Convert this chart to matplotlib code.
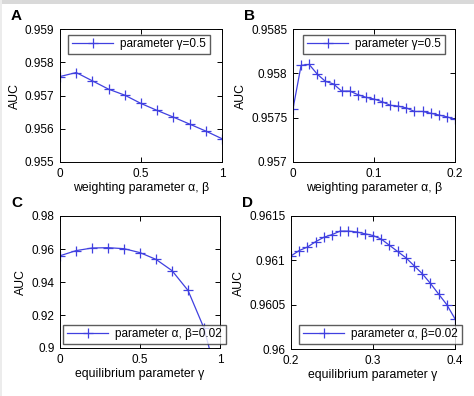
import matplotlib.pyplot as plt
from matplotlib.ticker import FuncFormatter
from matplotlib.patches import Rectangle

plt.rcParams["font.family"] = ["Liberation Sans", "DejaVu Sans"]

# --------------- data ------------------- #

a_x = [0, 0.1, 0.2, 0.3, 0.4, 0.5, 0.6, 0.7, 0.8, 0.9, 1.0]
a_auc = [0.95757, 0.95769, 0.95744, 0.95719, 0.95701, 0.95676,
         0.95655, 0.95635, 0.95614, 0.95593, 0.95570]

b_x = [0, 0.01, 0.02, 0.03, 0.04, 0.05, 0.06, 0.07, 0.08, 0.09, 0.10,
       0.11, 0.12, 0.13, 0.14, 0.15, 0.16, 0.17, 0.18, 0.19, 0.20]
b_auc = [0.95760, 0.95809, 0.95810, 0.95799, 0.95791, 0.95788, 0.95780,
         0.95780, 0.95776, 0.95773, 0.95771, 0.95768, 0.95764, 0.95763,
         0.95761, 0.95757, 0.95757, 0.95755, 0.95753, 0.95751, 0.95748]

c_x = [0, 0.1, 0.2, 0.3, 0.4, 0.5, 0.6, 0.7, 0.8, 0.9, 1.0]
c_auc = [0.9559, 0.9590, 0.9606, 0.9608, 0.9602, 0.9578,
         0.9537, 0.9469, 0.9349, 0.912, 0.875]

d_x = [0.20, 0.21, 0.22, 0.23, 0.24, 0.25, 0.26, 0.27, 0.28, 0.29, 0.30,
       0.31, 0.32, 0.33, 0.34, 0.35, 0.36, 0.37, 0.38, 0.39, 0.40]
d_auc = [0.96105, 0.96111, 0.96115, 0.96121, 0.96126, 0.96129, 0.96133,
         0.96133, 0.96132, 0.96130, 0.96128, 0.96124, 0.96117, 0.96110,
         0.96103, 0.96094, 0.96085, 0.96074, 0.96062, 0.96050, 0.96034]

line_color = "#4040e0"
W, H = 474, 396

fig = plt.figure(figsize=(W / 100, H / 100), dpi=100)
# light gray strip on top and faint line on the left, as in the scanned figure
fig.patches.append(Rectangle((0, 1 - 4 / H), 1, 4 / H, transform=fig.transFigure,
                             facecolor="#d9d9d9", edgecolor="none"))
fig.patches.append(Rectangle((0, 0), 2 / W, 1, transform=fig.transFigure,
                             facecolor="#ececec", edgecolor="none"))


def make_axes(left, top, width, height):
    return fig.add_axes([left / W, 1 - (top + height) / H, width / W, height / H])


def style(ax):
    ax.tick_params(direction="in", length=3.5, width=0.7, top=True, right=True,
                   labelsize=8.5, pad=4)
    for s in ax.spines.values():
        s.set_linewidth(0.7)
    ax.yaxis.set_major_formatter(FuncFormatter(lambda v, p: f"{v:.4f}".rstrip("0").rstrip(".")))
    ax.xaxis.set_major_formatter(FuncFormatter(lambda v, p: f"{v:.1f}".rstrip("0").rstrip(".")))


panels = [
    ("A", a_x, a_auc, (60, 29, 162, 133), (0, 1), (0.955, 0.959),
     [0, 0.5, 1], [0.955, 0.956, 0.957, 0.958, 0.959],
     "weighting parameter α, β", "parameter γ=0.5", (65, 34, 148, 21)),
    ("B", b_x, b_auc, (293, 29, 162, 133), (0, 0.2), (0.957, 0.9585),
     [0, 0.1, 0.2], [0.957, 0.9575, 0.958, 0.9585],
     "weighting parameter α, β", "parameter γ=0.5", (298, 34, 152, 21)),
    ("C", c_x, c_auc, (60, 216, 160, 132), (0, 1), (0.9, 0.98),
     [0, 0.5, 1], [0.9, 0.92, 0.94, 0.96, 0.98],
     "equilibrium parameter γ", "parameter α, β=0.02", (63, 324, 163, 21)),
    ("D", d_x, d_auc, (291, 216, 164, 133), (0.2, 0.4), (0.96, 0.9615),
     [0.2, 0.3, 0.4], [0.96, 0.9605, 0.961, 0.9615],
     "equilibrium parameter γ", "parameter α, β=0.02", (296, 324, 169, 21)),
]

for label, xs, ys, box, xlim, ylim, xt, yt, xlabel, leg, lbox in panels:
    ax = make_axes(*box)
    ax.plot(xs, ys, color=line_color, linewidth=0.9, marker="+",
            markersize=6.5, markeredgewidth=0.9, label=leg)
    ax.set_xlim(*xlim)
    ax.set_ylim(*ylim)
    ax.set_xticks(xt)
    ax.set_yticks(yt)
    style(ax)
    ax.set_xlabel(xlabel, fontsize=8.8, labelpad=2)
    ax.set_ylabel("AUC", fontsize=8.8, labelpad=3)
    lx, ly, lw, lh = lbox
    ax.legend(loc="center", bbox_to_anchor=(lx / W, 1 - (ly + lh) / H, lw / W, lh / H),
              bbox_transform=fig.transFigure, fontsize=8.5, frameon=True,
              fancybox=False, edgecolor="#333333", handlelength=3.5,
              borderpad=0.3, handletextpad=0.6, borderaxespad=0)
    fig.text((box[0] - 49) / W, 1 - (box[1] - 13) / H, label,
             fontsize=11, fontweight="bold", ha="left", va="center")

fig.savefig("out.png", dpi=100)
